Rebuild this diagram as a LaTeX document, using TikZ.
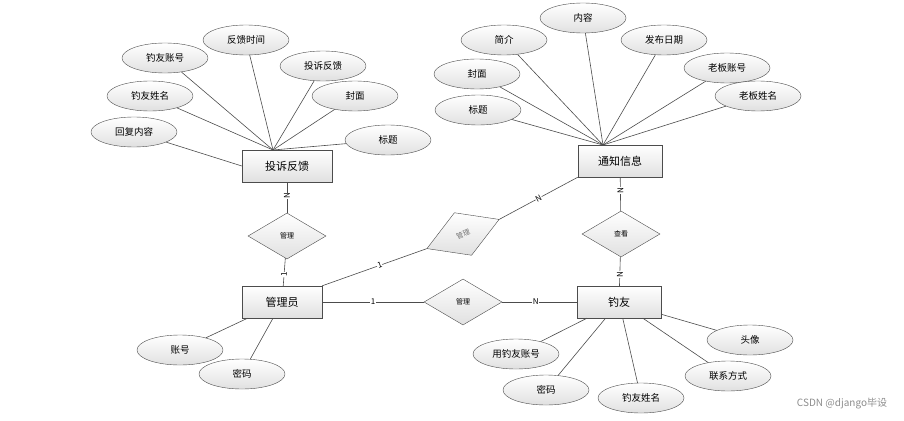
\documentclass[tikz,border=0pt]{standalone}
\usepackage{fontspec}
\setmainfont{Noto Sans CJK SC}
\usetikzlibrary{shapes.geometric}
\begin{document}
\begin{tikzpicture}[x=1pt,y=-1pt,
 ent/.style={draw=black!70,rectangle,minimum width=84pt,minimum height=32pt,top color=white,bottom color=black!12,font=\fontsize{11}{11}\selectfont},
 att/.style={draw=black!70,ellipse,minimum width=86pt,minimum height=30pt,top color=white,bottom color=black!12,font=\fontsize{9.5}{9.5}\selectfont,inner sep=0pt},
 rel/.style={draw=black!70,diamond,minimum width=78pt,minimum height=46pt,aspect=1.7,inner sep=0pt,top color=white,bottom color=black!12,font=\fontsize{7}{7}\selectfont},
 ln/.style={draw=black!70,line width=0.6pt},
 lab/.style={font=\fontsize{8}{8}\selectfont,fill=white,inner sep=0.5pt}]
\useasboundingbox (0,0) rectangle (904,420);
\node[ent,minimum width=90pt] (tf) at (287,166) {投诉反馈};
\node[ent] (tz) at (620,161) {通知信息};
\node[ent,minimum width=80pt] (gly) at (282,302) {管理员};
\node[ent] (dy) at (619,302) {钓友};
\node[rel] (r1) at (287,236) {管理};
\node[rel,rotate=22] (r2) at (463,234) {\textcolor{black!55}{管理}};
\node[rel] (r3) at (621,234) {查看};
\node[rel] (r4) at (463,302) {管理};
\coordinate (c1) at (273,150);
\coordinate (c2) at (603,145);
\foreach \n/\p/\t in {a1/{165,58}/钓友账号,a2/{246,40}/反馈时间,a3/{323,66}/投诉反馈,a4/{355,96}/封面,a5/{150,96}/钓友姓名,a7/{388,140}/标题}{
 \node[att] (\n) at (\p) {\t}; \draw[ln] (\n) -- (c1);}
\node[att] (a6) at (134,132) {回复内容}; \draw[ln] (a6) -- (tf.west);
\foreach \n/\p/\t in {b1/{504,40}/简介,b2/{583,18}/内容,b3/{664,40}/发布日期,b4/{477,74}/封面,b5/{727,68}/老板账号,b6/{478,110}/标题,b7/{758,96}/老板姓名}{
 \node[att] (\n) at (\p) {\t}; \draw[ln] (\n) -- (c2);}
\node[att] (d1) at (180,350) {账号}; \draw[ln] (d1) -- (gly);
\node[att] (d2) at (242,374) {密码}; \draw[ln] (d2) -- (gly);
\foreach \n/\p/\t in {e1/{750,340}/头像,e2/{516,354}/用钓友账号,e3/{728,376}/联系方式,e4/{546,390}/密码,e5/{641,398}/钓友姓名}{
 \node[att] (\n) at (\p) {\t}; \draw[ln] (\n) -- (dy);}
\draw[ln] (tf) -- node[lab,pos=0.45,rotate=90]{N} (r1);
\draw[ln] (r1) -- node[lab,pos=0.6,rotate=90]{1} (gly);
\draw[ln] (gly.north east) -- node[lab,pos=0.55,sloped]{1} (r2.west);
\draw[ln] (r2.east) -- node[lab,pos=0.5,sloped]{N} (tz.south west);
\draw[ln] (gly) -- node[lab,pos=0.5]{1} (r4);
\draw[ln] (r4) -- node[lab,pos=0.45]{N} (dy);
\draw[ln] (tz) -- node[lab,pos=0.4,rotate=90]{N} (r3);
\draw[ln] (r3) -- node[lab,pos=0.6,rotate=90]{N} (dy);
\node[font=\fontsize{10}{10}\selectfont,text=black!45] (wm) at (842,404) {CSDN @django毕设};
\end{tikzpicture}
\end{document}
